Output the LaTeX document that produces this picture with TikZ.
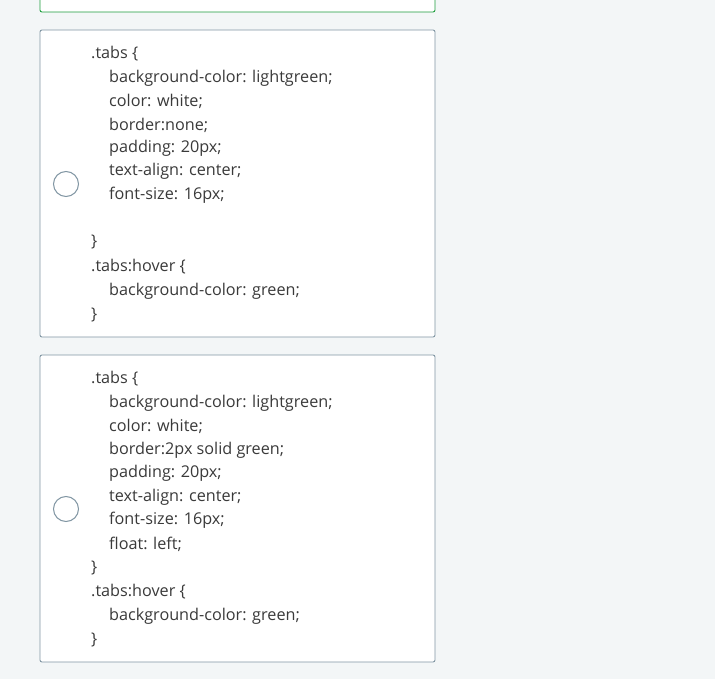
\documentclass[tikz,border=0pt]{standalone}
\usepackage{fontspec}
\setmainfont{Open Sans}
\definecolor{bg}{HTML}{F3F6F7}
\definecolor{bd}{HTML}{8196A3}
\definecolor{gb}{HTML}{1E9E3E}
\definecolor{tx}{HTML}{3A3A3A}
\begin{document}
\begin{tikzpicture}[x=1pt,y=-1pt,
  card/.style={draw=bd,fill=white,rounded corners=2pt,line width=0.9pt},
  radio/.style={circle,draw=bd,fill=white,line width=1pt,minimum size=25pt,inner sep=0pt},
  code/.style={anchor=west,inner sep=0pt,text=tx,font=\fontsize{16.2}{18}\selectfont}]
\useasboundingbox[fill=bg] (0,0) rectangle (715,679);
\draw[card,draw=gb] (40,-10) rectangle (435,12);
\draw[card] (40,30) rectangle (435,337);
\draw[card] (40,355) rectangle (435,662);
\node[radio] (r1) at (66,184) {};
\node[radio] (r2) at (66,509) {};
\foreach \y/\x/\t [count=\i] in {54/91/{.tabs \{},78/109/{background-color: lightgreen;},101/109/{color: white;},125/109/{border:none;},148/109/{padding: 20px;},171/109/{text-align: center;},195/109/{font-size: 16px;},242/91/{\}},267/91/{.tabs:hover \{},291/109/{background-color: green;},315/91/{\}}}
  \node[code] (a\i) at (\x,\y) {\t};
\foreach \y/\x/\t [count=\i] in {379/91/{.tabs \{},403/109/{background-color: lightgreen;},426/109/{color: white;},450/109/{border:2px solid green;},473/109/{padding: 20px;},497/109/{text-align: center;},520/109/{font-size: 16px;},544/109/{float: left;},568/91/{\}},592/91/{.tabs:hover \{},616/109/{background-color: green;},640/91/{\}}}
  \node[code] (b\i) at (\x,\y) {\t};
\end{tikzpicture}
\end{document}
